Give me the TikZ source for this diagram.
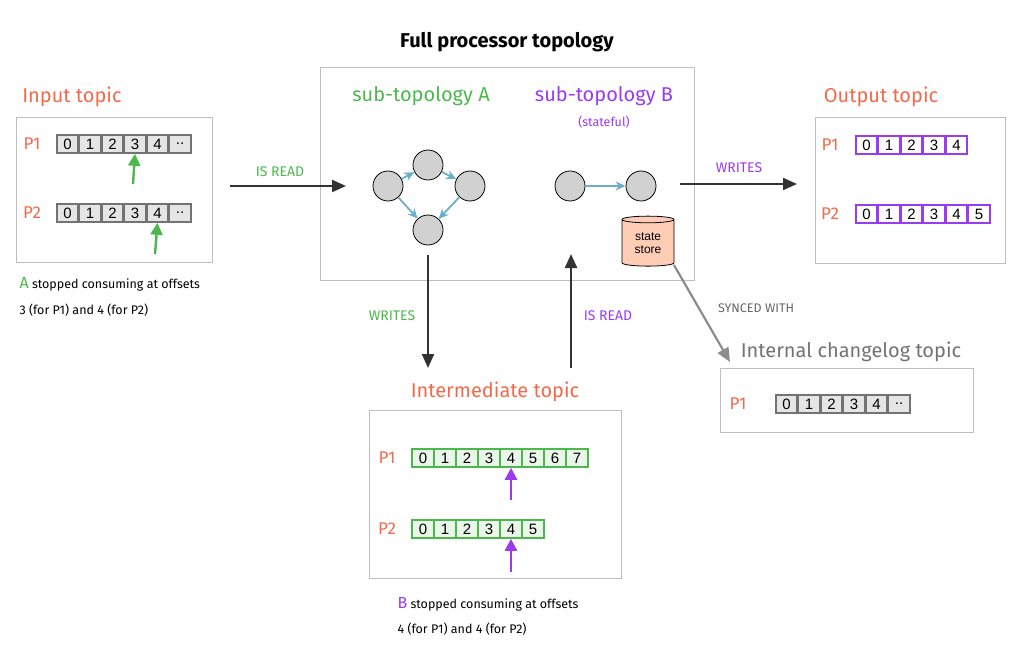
\documentclass[tikz,border=0pt]{standalone}
\usepackage{fontspec}
\setmainfont{Liberation Sans}
\newfontfamily\hand{Fira Sans}
\usetikzlibrary{shapes.geometric,arrows.meta}
\definecolor{org}{HTML}{F26A4B}
\definecolor{grn}{HTML}{4CB84C}
\definecolor{pur}{HTML}{9B3BF0}
\definecolor{blu}{HTML}{6AAFC8}
\definecolor{dark}{HTML}{333333}
\tikzset{
 box/.style={draw=black!25,line width=1pt},
 ttl/.style={font=\hand\fontsize{20}{20}\selectfont,text=org},
 plab/.style={font=\hand\fontsize{17}{17}\selectfont,text=org},
 cellg/.style={draw=black!55,fill=black!10,line width=1.6pt,minimum width=21.5pt,minimum height=18pt,inner sep=0,font=\fontsize{15}{15}\selectfont},
 cellgr/.style={cellg,draw=grn,fill=grn!12},
 cellp/.style={cellg,draw=pur,fill=white},
 proc/.style={circle,draw=black,fill=black!18,line width=0.8pt,minimum size=30pt,inner sep=0},
 barrow/.style={-{Stealth[length=10pt,width=9pt]},line width=1.8pt,draw=blu},
 darrow/.style={-{Triangle[length=14pt,width=12pt]},line width=2.2pt,draw=dark},
 small/.style={font=\hand\fontsize{12.5}{13}\selectfont},
 lbl/.style={font=\hand\fontsize{14}{14}\selectfont},
}
\begin{document}
\begin{tikzpicture}[x=1pt,y=-1pt]
\useasboundingbox (0,0) rectangle (1024,652);
% title
\node[font=\hand\bfseries\fontsize{20}{20}\selectfont] (title) at (507,42) {Full processor topology};
% input topic
\node[ttl] (intitle) at (72,97) {Input topic};
\draw[box] (16,118) rectangle (212,262);
\node[plab] (ip1) at (32,144) {P1};
\node[plab] (ip2) at (32,213) {P2};
\foreach \t [count=\i] in {0,1,2,3,4,..}{
 \node[cellg] (ia\i) at (45+22.5*\i,144) {\t};
 \node[cellg] (ib\i) at (45+22.5*\i,213) {\t};}
\coordinate (ga) at (133,184); \coordinate (gb) at (155,254);
\draw[-{Triangle[length=12pt,width=12pt]},line width=2.4pt,grn] (ga) -- (ia4.south);
\draw[-{Triangle[length=12pt,width=12pt]},line width=2.4pt,grn] (gb) -- (ib5.south);
\node[small,anchor=west] (ta) at (16,284) {\textcolor{grn}{\fontsize{16}{16}\selectfont A} stopped consuming at offsets};
\node[small,anchor=west] (tb) at (16,310) {3 (for P1) and 4 (for P2)};
% center
\draw[box] (320,68) rectangle (694,280);
\node[font=\hand\fontsize{20}{20}\selectfont,text=grn] (sa) at (421,96) {sub-topology A};
\node[font=\hand\fontsize{20}{20}\selectfont,text=pur] (sb) at (604,96) {sub-topology B};
\node[small,text=pur] (sf) at (604,122) {(stateful)};
\node[proc] (nt) at (428,165) {};
\node[proc] (nl) at (388,186) {};
\node[proc] (nr) at (470,186) {};
\node[proc] (nb) at (428,230) {};
\draw[barrow] (nl) -- (nt); \draw[barrow] (nt) -- (nr);
\draw[barrow] (nl) -- (nb); \draw[barrow] (nr) -- (nb);
\node[proc] (b1) at (570,186) {};
\node[proc] (b2) at (641,186) {};
\draw[barrow] (b1) -- (b2);
\node[cylinder,shape border rotate=90,draw=black,fill=orange!30!pink!60,line width=0.8pt,minimum width=52pt,minimum height=50pt,aspect=0.25,inner sep=0,align=center,font=\fontsize{12}{13}\selectfont] (ss) at (648,243) {state\\store};
% is read / writes
\coordinate (ir0) at (230,186); \coordinate (ir1) at (346,186);
\draw[darrow] (ir0) -- (ir1);
\node[lbl,text=grn] (irl) at (280,172) {IS READ};
\coordinate (w0) at (680,184); \coordinate (w1) at (797,184);
\draw[darrow] (w0) -- (w1);
\node[lbl,text=pur] (wl) at (739,168) {WRITES};
% output
\node[ttl] (outtitle) at (881,97) {Output topic};
\draw[box] (815,118) rectangle (1005,263);
\node[plab] (op1) at (830,145) {P1};
\node[plab] (op2) at (830,214) {P2};
\foreach \t [count=\i] in {0,1,2,3,4}{\node[cellp] (oa\i) at (844+22.5*\i,145) {\t};}
\foreach \t [count=\i] in {0,1,2,3,4,5}{\node[cellp] (ob\i) at (844+22.5*\i,214) {\t};}
% down/up
\coordinate (d0) at (428,255); \coordinate (d1) at (428,368);
\draw[darrow] (d0) -- (d1);
\node[lbl,text=grn] (dl) at (392,316) {WRITES};
\coordinate (u0) at (571,368); \coordinate (u1) at (571,254);
\draw[darrow] (u0) -- (u1);
\node[lbl,text=pur] (ul) at (608,316) {IS READ};
% intermediate
\node[ttl] (mtitle) at (495,392) {Intermediate topic};
\draw[box] (369,410) rectangle (621,578);
\node[plab] (mp1) at (387,458) {P1};
\node[plab] (mp2) at (387,529) {P2};
\foreach \t [count=\i] in {0,1,2,3,4,5,6,7}{\node[cellgr] (ma\i) at (401+22*\i,458) {\t};}
\foreach \t [count=\i] in {0,1,2,3,4,5}{\node[cellgr] (mb\i) at (401+22*\i,529) {\t};}
\coordinate (pa) at (511,500); \coordinate (pb) at (511,572);
\draw[-{Triangle[length=12pt,width=12pt]},line width=2.4pt,pur] (pa) -- (ma5.south);
\draw[-{Triangle[length=12pt,width=12pt]},line width=2.4pt,pur] (pb) -- (mb5.south);
\node[small,anchor=west] (tc) at (394,604) {\textcolor{pur}{\fontsize{16}{16}\selectfont B} stopped consuming at offsets};
\node[small,anchor=west] (td) at (394,629) {4 (for P1) and 4 (for P2)};
% changelog
\draw[-{Triangle[length=14pt,width=12pt]},line width=2.2pt,black!45] (ss.south east) ++(4,0) coordinate (s0) -- (730,362) coordinate (s1);
\node[font=\hand\fontsize{12.5}{12.5}\selectfont,text=black!60] (swl) at (756,308) {SYNCED WITH};
\node[font=\hand\fontsize{20}{20}\selectfont,text=black!55] (ctitle) at (851,352) {Internal changelog topic};
\draw[box] (720,368) rectangle (973,432);
\node[plab] (cp1) at (738,404) {P1};
\foreach \t [count=\i] in {0,1,2,3,4,..}{\node[cellg] (ca\i) at (764+22.5*\i,404) {\t};}
\end{tikzpicture}
\end{document}
